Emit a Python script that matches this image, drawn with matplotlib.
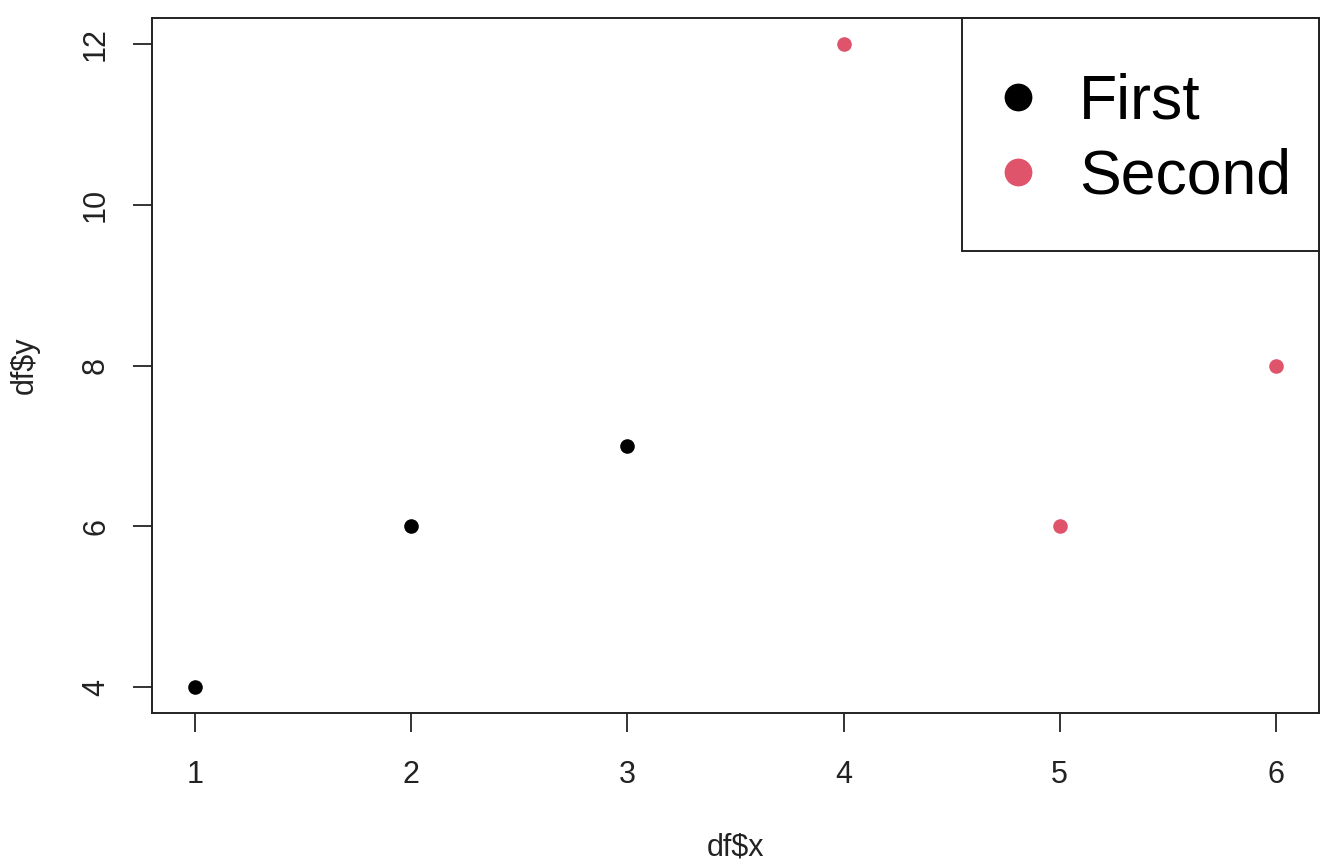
import matplotlib
matplotlib.use("Agg")
import matplotlib.pyplot as plt
from matplotlib.lines import Line2D
from matplotlib.offsetbox import DrawingArea

plt.rcParams['font.family'] = ['Liberation Sans', 'DejaVu Sans']

x_first = [1, 2, 3]
y_first = [4, 6, 7]
x_second = [4, 5, 6]
y_second = [12, 6, 8]
labels = ["First", "Second"]
colors = ["#000000", "#DF536B"]
xticks = [1, 2, 3, 4, 5, 6]
yticks = [4, 6, 8, 10, 12]

fig = plt.figure(figsize=(13.33, 8.68), dpi=100)
ax = fig.add_axes([152/1333, 1-713/868, (1319-152)/1333, (713-18)/868])

ax.plot(x_first, y_first, 'o', color=colors[0], markersize=10.5, markeredgewidth=0)
ax.plot(x_second, y_second, 'o', color=colors[1], markersize=10.5, markeredgewidth=0)

allx = x_first + x_second
ally = y_first + y_second
rx = max(allx) - min(allx)
ry = max(ally) - min(ally)
ax.set_xlim(min(allx) - 0.04*rx, max(allx) + 0.04*rx)
ax.set_ylim(min(ally) - 0.04*ry, max(ally) + 0.04*ry)

ax.set_xticks(xticks)
ax.set_yticks(yticks)
ax.set_xticklabels([str(v) for v in xticks])
ax.set_yticklabels([str(v) for v in yticks], rotation=90, va='center')
ax.tick_params(axis='both', length=13.5, width=1.4, labelsize=22, color='#333333', labelcolor='#222222')
ax.tick_params(axis='x', pad=20)
ax.tick_params(axis='y', pad=16)
for s in ax.spines.values():
    s.set_linewidth(1.4)
    s.set_color('#222222')

ax.set_xlabel("df$x", fontsize=22, color='#222222')
ax.set_ylabel("df$y", fontsize=22, color='#222222')
ax.xaxis.set_label_coords((735-152)/1167, (713-848)/695)
ax.xaxis.label.set_va('center')
ax.yaxis.set_label_coords((25-152)/1167, 0.5)
ax.yaxis.label.set_va('center')

handles = [Line2D([], [], linestyle='none', marker='o', color=c, markersize=20, markeredgewidth=0) for c in colors]
leg = ax.legend(handles, labels, loc='upper right', bbox_to_anchor=(1, 1), borderaxespad=0,
                fontsize=45, frameon=True, fancybox=False, edgecolor='#222222', framealpha=1,
                borderpad=0.45, handlelength=0.9, handletextpad=0.52, labelspacing=0.26,
                title=" ", title_fontsize=7)
leg.get_frame().set_linewidth(1.4)
try:
    leg._legend_box.get_children().append(DrawingArea(0, 0))
except Exception:
    pass

fig.savefig("out.png", dpi=100)
